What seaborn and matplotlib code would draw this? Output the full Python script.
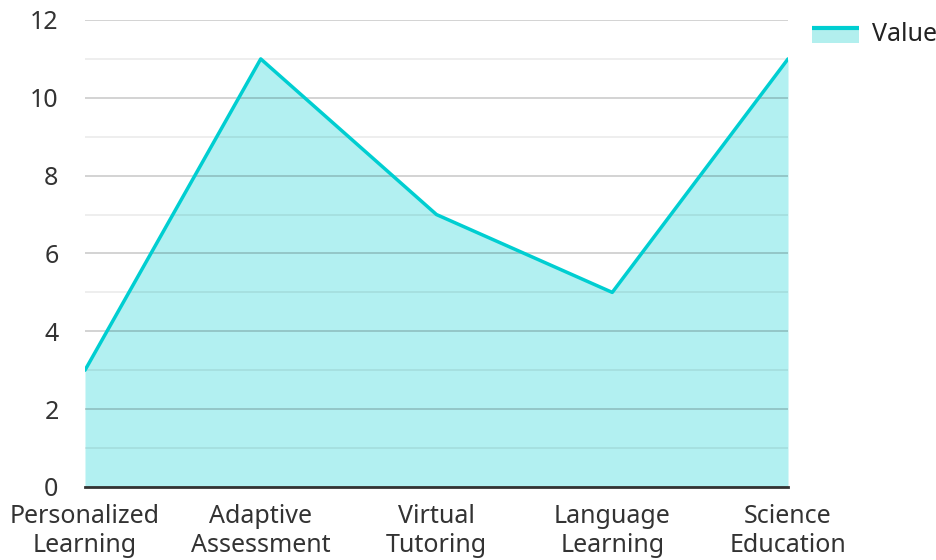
import numpy as np
import pandas as pd
import matplotlib
matplotlib.use("Agg")
import matplotlib.pyplot as plt
import seaborn as sns
from matplotlib.lines import Line2D
from matplotlib.patches import Rectangle
from matplotlib.legend_handler import HandlerBase
from matplotlib.ticker import MultipleLocator

# Дані графіка
categories = ["Personalized\nLearning", "Adaptive\nAssessment", "Virtual\nTutoring",
              "Language\nLearning", "Science\nEducation"]
values = [3, 11, 7, 5, 11]
series_name = "Value"

df = pd.DataFrame({"category": categories, "value": values})
df["pos"] = np.arange(len(df))

sns.set_theme(style="white")
plt.rcParams["font.family"] = ["Noto Sans", "DejaVu Sans"]

line_color = "#00CED1"
fill_color = "#B2EFEE"


class AreaHandler(HandlerBase):
    """Лінія зверху, заливка під нею"""

    def create_artists(self, legend, orig_handle, xdescent, ydescent,
                       width, height, fontsize, trans):
        top = height * 0.75
        rect = Rectangle((-xdescent, -ydescent - height * 0.1), width, top + height * 0.1,
                         facecolor=fill_color, edgecolor="none", transform=trans)
        line = Line2D([-xdescent, -xdescent + width], [top - ydescent, top - ydescent],
                      color=line_color, linewidth=3, solid_capstyle="butt",
                      transform=trans)
        return [rect, line]


fig = plt.figure(figsize=(9.37, 5.6), dpi=100)
ax = fig.add_axes([0.0907, 0.1304, 0.7503, 0.8339])

# Заливка під лінією
ax.fill_between(df["pos"], df["value"], 0, color=line_color, alpha=0.3, linewidth=0, zorder=1)
sns.lineplot(data=df, x="pos", y="value", color=line_color, linewidth=2.5, ax=ax, zorder=3)

ax.set_xlim(0, len(df) - 1)
ax.set_ylim(0, 12)
ax.yaxis.set_major_locator(MultipleLocator(2))
ax.yaxis.set_minor_locator(MultipleLocator(1))
ax.grid(which="major", axis="y", color="#000000", alpha=0.2, linewidth=1.2, zorder=2)
ax.grid(which="minor", axis="y", color="#000000", alpha=0.08, linewidth=1.2, zorder=2)
ax.set_axisbelow(False)

ax.set_xticks(df["pos"])
ax.set_xticklabels(df["category"], linespacing=1.25)
ax.set_xlabel("")
ax.set_ylabel("")
ax.tick_params(axis="both", which="both", length=0, labelsize=18, colors="#333333")
ax.tick_params(axis="x", pad=12)
ax.tick_params(axis="y", pad=19)

for s in ["left", "right", "top"]:
    ax.spines[s].set_visible(False)
ax.spines["bottom"].set_color("#333333")
ax.spines["bottom"].set_linewidth(2)
ax.spines["bottom"].set_zorder(4)

ax.legend([object()], [series_name], handler_map={object: AreaHandler()},
          loc="upper left", bbox_to_anchor=(1.034, 0.996), frameon=False,
          borderpad=0, borderaxespad=0,
          fontsize=18, handlelength=1.9, handletextpad=0.5, labelcolor="#222222")

fig.savefig("out.png", dpi=100)
